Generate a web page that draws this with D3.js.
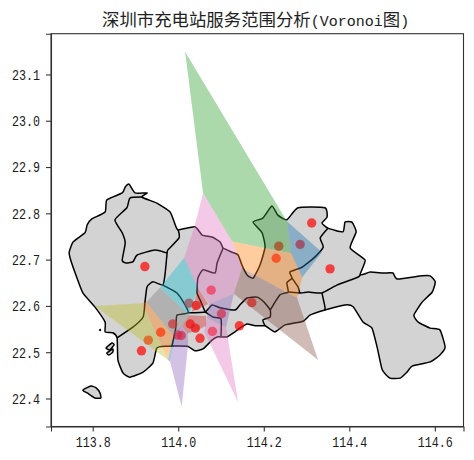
<!DOCTYPE html>
<html>
  <head>
    <meta charset="utf-8">
    <title>深圳市充电站服务范围分析</title>
    <script src="https://cdnjs.cloudflare.com/ajax/libs/d3/7.8.5/d3.min.js"></script>
    <style>
      body { margin: 0; background: #fff; }
      .axis text { font-family: 'Liberation Mono', monospace; font-size: 15px; fill: #1a1a1a; }
      .axis path, .axis line { stroke: #333; stroke-width: 1.1; }
      .title { font-family: 'Noto Sans CJK SC', sans-serif; font-size: 17.4px; fill: #222; }
      .title .latin { font-family: 'Liberation Mono', monospace; font-size: 15px; }
    </style>
  </head>
  <body>
    <svg id="chart" width="474" height="460"></svg>
    <script>
      const xTicks = [113.8, 114.0, 114.2, 114.4, 114.6];
      const yTicks = [22.4, 22.5, 22.6, 22.7, 22.8, 22.9, 23.0, 23.1];

      // city outline, lon/lat
      const outline = [[113.745,22.716],[113.747,22.704],[113.759,22.671],[113.777,22.628],[113.805,22.598],[113.829,22.565],[113.829,22.544],[113.847,22.542],[113.857,22.531],[113.859,22.483],[113.871,22.455],[113.887,22.446],[113.918,22.457],[113.941,22.477],[113.950,22.509],[113.969,22.513],[114.021,22.513],[114.039,22.503],[114.058,22.507],[114.079,22.526],[114.091,22.533],[114.114,22.533],[114.128,22.541],[114.144,22.552],[114.161,22.561],[114.180,22.557],[114.203,22.557],[114.226,22.544],[114.250,22.559],[114.292,22.567],[114.308,22.580],[114.343,22.591],[114.390,22.602],[114.409,22.598],[114.432,22.565],[114.453,22.552],[114.465,22.511],[114.477,22.462],[114.495,22.444],[114.519,22.444],[114.535,22.457],[114.547,22.470],[114.589,22.479],[114.612,22.494],[114.624,22.511],[114.612,22.548],[114.589,22.552],[114.561,22.565],[114.551,22.580],[114.570,22.608],[114.594,22.630],[114.601,22.652],[114.589,22.665],[114.570,22.665],[114.512,22.658],[114.502,22.671],[114.479,22.671],[114.449,22.673],[114.425,22.667],[114.437,22.699],[114.402,22.725],[114.416,22.760],[114.406,22.781],[114.390,22.781],[114.385,22.760],[114.350,22.768],[114.336,22.779],[114.348,22.792],[114.343,22.812],[114.280,22.812],[114.254,22.786],[114.233,22.796],[114.219,22.816],[114.198,22.790],[114.175,22.781],[114.196,22.758],[114.203,22.727],[114.191,22.688],[114.175,22.660],[114.161,22.667],[114.149,22.688],[114.140,22.710],[114.126,22.716],[114.105,22.725],[114.098,22.738],[114.079,22.749],[114.056,22.753],[114.039,22.771],[114.000,22.764],[113.993,22.775],[113.981,22.803],[113.950,22.822],[113.915,22.835],[113.927,22.844],[113.899,22.844],[113.885,22.863],[113.876,22.857],[113.869,22.844],[113.833,22.829],[113.829,22.803],[113.798,22.788],[113.787,22.775],[113.782,22.758],[113.754,22.738]];

      const islands = [
        [[113.777,22.418],[113.796,22.427],[113.808,22.423],[113.817,22.412],[113.819,22.401],[113.805,22.401],[113.787,22.412]],
        [[113.831,22.509],[113.845,22.520],[113.850,22.516],[113.840,22.505]],
        [[113.833,22.498],[113.847,22.507],[113.847,22.500],[113.838,22.494]],
        [[113.816,22.548],[113.818,22.549],[113.818,22.547]]
      ];

      // district borders inside the outline
      const borders = [
        [[113.915,22.835],[113.887,22.833],[113.880,22.812],[113.852,22.786],[113.869,22.758],[113.876,22.736],[113.869,22.699],[113.876,22.693],[113.894,22.695],[113.904,22.710],[113.946,22.721],[113.974,22.714]],
        [[114.000,22.764],[114.002,22.747],[113.976,22.721],[113.974,22.714],[113.969,22.667],[113.964,22.645],[113.941,22.652],[113.927,22.641],[113.922,22.606],[113.918,22.576],[113.894,22.554],[113.857,22.531]],
        [[113.964,22.645],[113.997,22.628],[114.016,22.602],[114.023,22.585],[113.997,22.580],[113.995,22.559],[113.992,22.541],[113.985,22.513]],
        [[114.023,22.585],[114.063,22.587],[114.079,22.602],[114.098,22.596],[114.133,22.591],[114.144,22.602],[114.161,22.617],[114.184,22.619],[114.201,22.608],[114.215,22.591],[114.215,22.576],[114.198,22.570],[114.203,22.557]],
        [[114.105,22.725],[114.091,22.693],[114.086,22.671],[114.058,22.678],[114.046,22.660],[114.044,22.628],[114.051,22.613],[114.063,22.587]],
        [[114.063,22.587],[114.081,22.576],[114.100,22.572],[114.100,22.535]],
        [[114.215,22.591],[114.238,22.624],[114.257,22.630],[114.254,22.650],[114.266,22.660],[114.261,22.673],[114.290,22.684],[114.320,22.706],[114.339,22.727],[114.332,22.747],[114.350,22.768]],
        [[114.266,22.660],[114.280,22.641],[114.285,22.628],[114.304,22.630],[114.336,22.628],[114.371,22.645],[114.420,22.662],[114.425,22.667]],
        [[114.257,22.630],[114.285,22.628]],
        [[114.336,22.628],[114.343,22.598],[114.343,22.591]]
      ];

      const stationLon = [113.922,114.077,114.025,114.042,114.101,113.987,114.028,114.040,114.143,114.080,113.959,113.999,114.007,113.930,114.051,113.914,114.172,114.312,114.285,114.235,114.229,114.355];
      const stationLat = [22.685,22.634,22.606,22.601,22.583,22.561,22.561,22.552,22.557,22.545,22.543,22.537,22.536,22.526,22.530,22.503,22.607,22.779,22.733,22.729,22.703,22.680];

      // finite voronoi cells and their colours
      const cells = [
        [[114.016,23.149],[114.254,22.783],[114.264,22.714],[114.126,22.739],[114.058,22.844]],
        [[114.058,22.844],[114.126,22.739],[114.149,22.682],[114.130,22.626],[114.072,22.604],[114.046,22.639],[114.014,22.704],[114.039,22.775]],
        [[114.126,22.739],[114.264,22.714],[114.290,22.662],[114.278,22.617],[114.149,22.682]],
        [[114.254,22.783],[114.336,22.716],[114.290,22.662],[114.264,22.714]],
        [[114.149,22.682],[114.278,22.617],[114.327,22.483],[114.130,22.626]],
        [[114.072,22.604],[114.130,22.626],[114.112,22.554],[114.067,22.574]],
        [[114.067,22.574],[114.112,22.554],[114.140,22.392],[114.061,22.544]],
        [[114.014,22.704],[114.046,22.639],[114.025,22.580],[113.957,22.639]],
        [[113.925,22.608],[113.957,22.639],[114.025,22.580],[114.008,22.556],[113.989,22.535]],
        [[113.915,22.606],[113.925,22.608],[113.989,22.535],[113.976,22.483]],
        [[113.805,22.600],[113.915,22.606],[113.976,22.483]],
        [[113.989,22.535],[113.997,22.548],[113.981,22.479],[113.976,22.483]],
        [[114.008,22.556],[114.022,22.541],[114.023,22.516],[114.008,22.382],[113.981,22.479],[113.997,22.548]],
        [[114.025,22.580],[114.065,22.578],[114.065,22.557],[114.042,22.546],[114.022,22.541],[114.008,22.556]],
        [[114.046,22.639],[114.070,22.604],[114.032,22.587]]
      ];
      const cellColors = ['#2ca02c','#e377c2','#ff7f0e','#1f77b4','#8c564b','#9467bd','#e377c2','#17becf','#7f7f7f','#ff7f0e','#bcbd22','#1f77b4','#9467bd','#d62728','#d62728'];

      const margin = {top: 33.7, right: 10.5, bottom: 33.5, left: 51};
      const width = 474 - margin.left - margin.right;
      const height = 460 - margin.top - margin.bottom;

      const x = d3.scaleLinear().domain([113.7025, 114.667]).range([0, width]);
      const y = d3.scaleLinear().domain([22.3395, 23.188]).range([height, 0]);

      const svg = d3.select('#chart');
      const g = svg.append('g')
        .attr('transform', 'translate(' + margin.left + ',' + margin.top + ')');

      const smooth = d3.line().x(d => x(d[0])).y(d => y(d[1])).curve(d3.curveCardinal.tension(0.5));
      const smoothClosed = d3.line().x(d => x(d[0])).y(d => y(d[1])).curve(d3.curveCardinalClosed.tension(0.5));
      const straight = d3.line().x(d => x(d[0])).y(d => y(d[1])).curve(d3.curveLinearClosed);

      // map first, the cells are laid over it
      g.selectAll('.land')
        .data([outline].concat(islands))
        .enter().append('path')
        .attr('class', 'land')
        .attr('d', smoothClosed)
        .attr('fill', '#d3d3d3')
        .attr('stroke', '#000')
        .attr('stroke-width', 1.5);

      g.selectAll('.border')
        .data(borders)
        .enter().append('path')
        .attr('class', 'border')
        .attr('d', smooth)
        .attr('fill', 'none')
        .attr('stroke', '#000')
        .attr('stroke-width', 1.5);

      g.selectAll('.station')
        .data(stationLon)
        .enter().append('circle')
        .attr('class', 'station')
        .attr('cx', d => x(d))
        .attr('cy', (d, i) => y(stationLat[i]))
        .attr('r', 4.7)
        .attr('fill', '#ff0000')
        .attr('fill-opacity', 0.7);

      g.selectAll('.cell')
        .data(cells)
        .enter().append('path')
        .attr('class', 'cell')
        .attr('d', straight)
        .attr('fill', (d, i) => cellColors[i])
        .attr('fill-opacity', 0.4);

      // Axes
      const xAxis = d3.axisBottom(x).tickValues(xTicks).tickFormat(d3.format('.1f')).tickSize(5).tickPadding(5);
      const yAxis = d3.axisLeft(y).tickValues(yTicks).tickFormat(d3.format('.1f')).tickSize(5).tickPadding(6);

      const gx = g.append('g')
        .attr('class', 'axis')
        .attr('transform', 'translate(0,' + height + ')')
        .call(xAxis);
      const gy = g.append('g')
        .attr('class', 'axis')
        .call(yAxis);

      // tick font is narrow, squeeze the glyphs to fit
      gx.selectAll('text').attr('textLength', 35).attr('lengthAdjust', 'spacingAndGlyphs');
      gy.selectAll('text').attr('textLength', 28).attr('lengthAdjust', 'spacingAndGlyphs');

      g.append('rect')
        .attr('width', width)
        .attr('height', height)
        .attr('fill', 'none')
        .attr('stroke', '#333')
        .attr('stroke-width', 1.1);

      const title = svg.append('text')
        .attr('class', 'title')
        .attr('x', 102)
        .attr('y', 26);
      title.append('tspan').text('深圳市充电站服务范围分析');
      title.append('tspan').attr('class', 'latin').text('(Voronoi');
      title.append('tspan').text('图');
      title.append('tspan').attr('class', 'latin').text(')');
    </script>
  </body>
</html>
